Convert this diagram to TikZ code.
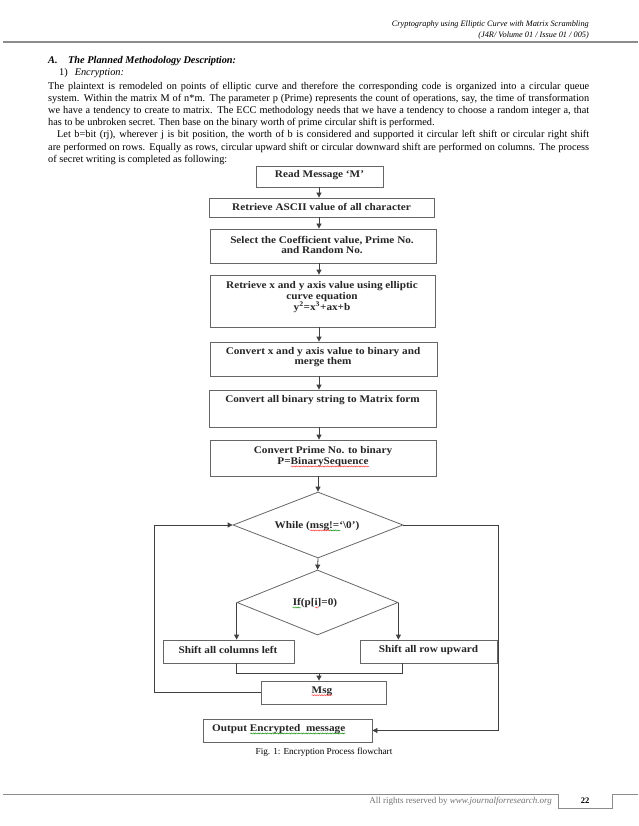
\documentclass[tikz,border=0pt]{standalone}
\usepackage{fontspec}
\setmainfont{Liberation Serif}
\newfontfamily\fcfont[FakeStretch=1.1]{Liberation Serif}
\usetikzlibrary{arrows.meta,shapes.geometric,decorations.pathmorphing}
\begin{document}
\begin{tikzpicture}[x=1pt,y=-1pt,
  box/.style={draw=black!60, line width=0.8pt, inner sep=0pt},
  dia/.style={draw=black!60, line width=0.8pt, diamond, inner sep=0pt},
  ftxt/.style={font=\fcfont\bfseries\fontsize{10.2}{10.8}\selectfont, text=black!85, align=center, inner sep=0pt},
  conn/.style={draw=black!75, line width=0.8pt},
  arr/.style={conn, -{Triangle[length=5pt,width=5pt]}},
  rulestyle/.style={draw=black!45, line width=1.3pt},
  bodyfont/.style={font=\fontsize{10.3}{12.2}\selectfont, inner sep=0pt},
  wave/.style={decorate, decoration={snake,amplitude=0.55pt,segment length=2.4pt}, line width=0.45pt},
  redwave/.style={wave, draw=red!80},
  greenwave/.style={wave, draw=green!55!black},
]
\useasboundingbox (0,0) rectangle (638,826);
\fill[white] (0,0) rectangle (638,826);

% header
\node[anchor=base east, font=\itshape\fontsize{8.3}{9.6}\selectfont, inner sep=0pt] (h1) at (589,26.5) {Cryptography using Elliptic Curve with Matrix Scrambling};
\node[anchor=base east, font=\itshape\fontsize{8.3}{9.6}\selectfont, inner sep=0pt] (h2) at (589,37.5) {(J4R/ Volume 01 / Issue 01 / 005)};
\draw[rulestyle] (3,42) -- (638,42);

% section heading
\node[anchor=base west, bodyfont, font=\bfseries\itshape\fontsize{10.3}{12}\selectfont] (secA) at (48,64) {A.};
\node[anchor=base west, bodyfont, font=\bfseries\itshape\fontsize{10.3}{12}\selectfont] (secT) at (68,64) {The Planned Methodology Description:};
\node[anchor=base west, bodyfont] (sub) at (59,76) {1)\hskip 7pt\textit{Encryption:}};

% body
\node[anchor=north west, bodyfont, align=left] (body) at (48,80.46) {%
\strut\hbox to 541pt{The plaintext is remodeled on points of elliptic curve and therefore the corresponding code is organized into a circular queue}\\
\hbox to 541pt{system. Within the matrix M of n*m. The parameter p (Prime) represents the count of operations, say, the time of transformation}\\
\hbox to 541pt{we have a tendency to create to matrix. The ECC methodology needs that we have a tendency to choose a random integer a, that}\\
has to be unbroken secret. Then base on the binary worth of prime circular shift is performed.\\
\hbox to 541pt{\hskip 9pt Let b=bit (rj), wherever j is bit position, the worth of b is considered and supported it circular left shift or circular right shift}\\
\hbox to 541pt{are performed on rows. Equally as rows, circular upward shift or circular downward shift are performed on columns. The process}\\
of secret writing is completed as following:};

% flowchart boxes
\node[box, minimum width=127pt, minimum height=21pt] (b1) at (319.5,176.5) {};
\node[box, minimum width=225pt, minimum height=19pt] (b2) at (321.5,207.5) {};
\node[box, minimum width=226pt, minimum height=34pt] (b3) at (323,246) {};
\node[box, minimum width=225pt, minimum height=52pt] (b4) at (322.5,301) {};
\node[box, minimum width=227pt, minimum height=34pt] (b5) at (323.5,359) {};
\node[box, minimum width=227pt, minimum height=37pt] (b6) at (322.5,408.5) {};
\node[box, minimum width=226pt, minimum height=36pt] (b7) at (323,458) {};
\node[dia, minimum width=170pt, minimum height=66pt] (wh) at (318,525) {};
\node[dia, minimum width=161pt, minimum height=65pt] (ifd) at (317.5,602.5) {};
\node[box, minimum width=131pt, minimum height=23pt] (lb) at (228.5,651.5) {};
\node[box, minimum width=137pt, minimum height=23pt] (rb) at (428.5,651.5) {};
\node[box, minimum width=125pt, minimum height=23pt] (mb) at (323.5,692.5) {};
\node[box, minimum width=169pt, minimum height=23pt] (ob) at (287.5,730.5) {};

% texts
\node[ftxt] (t1) at (319.5,175.5) {Read Message ‘M’};
\node[ftxt] (t2) at (321.5,207) {Retrieve ASCII value of all character};
\node[ftxt] (t3) at (322,245) {Select the Coefficient value, Prime No.\\and Random No.};
\node[ftxt] (t4) at (322,297) {Retrieve x and y axis value using elliptic\\curve equation\\y\textsuperscript{2}=x\textsuperscript{3}+ax+b};
\node[ftxt] (t5) at (323,357) {Convert x and y axis value to binary and\\merge them};
\node[ftxt] (t6) at (322.5,400) {Convert all binary string to Matrix form};
\node[ftxt] (t7a) at (323,451) {Convert Prime No. to binary};
\node[ftxt] (t7b) at (323,462) {P=BinarySequence};
\node[ftxt] (tw) at (317,526) {While (msg!=‘\textbackslash 0’)};
\node[ftxt] (ti) at (315,603) {If(p[i]=0)};
\node[ftxt] (tl) at (228,649.5) {Shift all columns left};
\node[ftxt] (tr) at (428.5,649.5) {Shift all row upward};
\node[ftxt] (tm) at (322,691) {Msg};
\node[ftxt, anchor=west] (to) at (212,729) {Output Encrypted\ \ message};

% helper phantoms to locate the wavy (spell-check) underlines
\node[ftxt, anchor=base west] (p7) at (t7b.base west) {\phantom{P=}};
\node[ftxt, anchor=base west] (pw1) at (tw.base west) {\phantom{While (}};
\node[ftxt, anchor=base west] (pw2) at (pw1.base east) {\phantom{msg}};
\node[ftxt, anchor=base west] (pw3) at (pw2.base east) {\phantom{!=}};
\node[ftxt, anchor=base west] (pi1) at (ti.base west) {\phantom{If}};
\node[ftxt, anchor=base west] (pi2) at (pi1.base east) {\phantom{(p[}};
\node[ftxt, anchor=base west] (pi3) at (pi2.base east) {\phantom{i}};
\node[ftxt, anchor=base west] (po) at (to.base west) {\phantom{Output }};
\draw[redwave] ([yshift=-2pt]p7.base east) -- ([yshift=-2pt]t7b.base east);
\draw[redwave] ([yshift=-2pt]pw1.base east) -- ([yshift=-2pt]pw2.base east);
\draw[greenwave] ([yshift=-2pt]pw2.base east) -- ([yshift=-2pt]pw3.base east);
\draw[greenwave] ([yshift=-2pt]ti.base west) -- ([yshift=-2pt]pi1.base east);
\draw[redwave] ([yshift=-2pt]pi2.base east) -- ([yshift=-2pt]pi3.base east);
\draw[redwave] ([yshift=-2pt]tm.base west) -- ([yshift=-2pt]tm.base east);
\draw[greenwave] ([yshift=-2pt]po.base east) -- ([yshift=-2pt]to.base east);

% connectors
\coordinate (ax) at (319,0);
\draw[arr] (b1.south -| ax) -- (b2.north -| ax);
\draw[arr] (b2.south -| ax) -- (b3.north -| ax);
\draw[arr] (b3.south -| ax) -- (b4.north -| ax);
\draw[arr] (b4.south -| ax) -- (b5.north -| ax);
\draw[arr] (b5.south -| ax) -- (b6.north -| ax);
\draw[arr] (b6.south -| ax) -- (b7.north -| ax);
\draw[arr] (b7.south -| wh.north) -- (wh.north);
\draw[arr] (wh.south) -- (ifd.north);
\draw[arr] (ifd.west) -- (ifd.west |- lb.north);
\draw[arr] (ifd.east) -- (ifd.east |- rb.north);
\coordinate (mj) at (319,673);
\coordinate (mr) at (402,673);
\draw[conn] (lb.south -| ifd.west) |- (mr) -- (rb.south -| mr);
\draw[arr] (mj) -- (mb.north -| mj);
\coordinate (lp) at (154,600);
\draw[arr] (mb.west) -- (mb.west -| lp) |- (wh.west);
\coordinate (rp) at (498,600);
\draw[arr] (wh.east) -- (wh.east -| rp) |- (ob.east);

% caption
\node[anchor=base, font=\fontsize{9.2}{10}\selectfont, inner sep=0pt] (cap) at (324,754) {Fig. 1: Encryption Process flowchart};

% footer
\draw[draw=black!45, line width=1pt] (3,794) -- (558,794) -- (558,808) -- (612,808) -- (612,794) -- (638,794);
\node[anchor=base east, font=\fontsize{9}{10}\selectfont, text=black!55, inner sep=0pt] (ft) at (552,803) {All rights reserved by \textit{www.journalforresearch.org}};
\node[anchor=base, font=\bfseries\fontsize{8.5}{10}\selectfont, inner sep=0pt] (pg) at (585,803) {22};
\end{tikzpicture}
\end{document}
